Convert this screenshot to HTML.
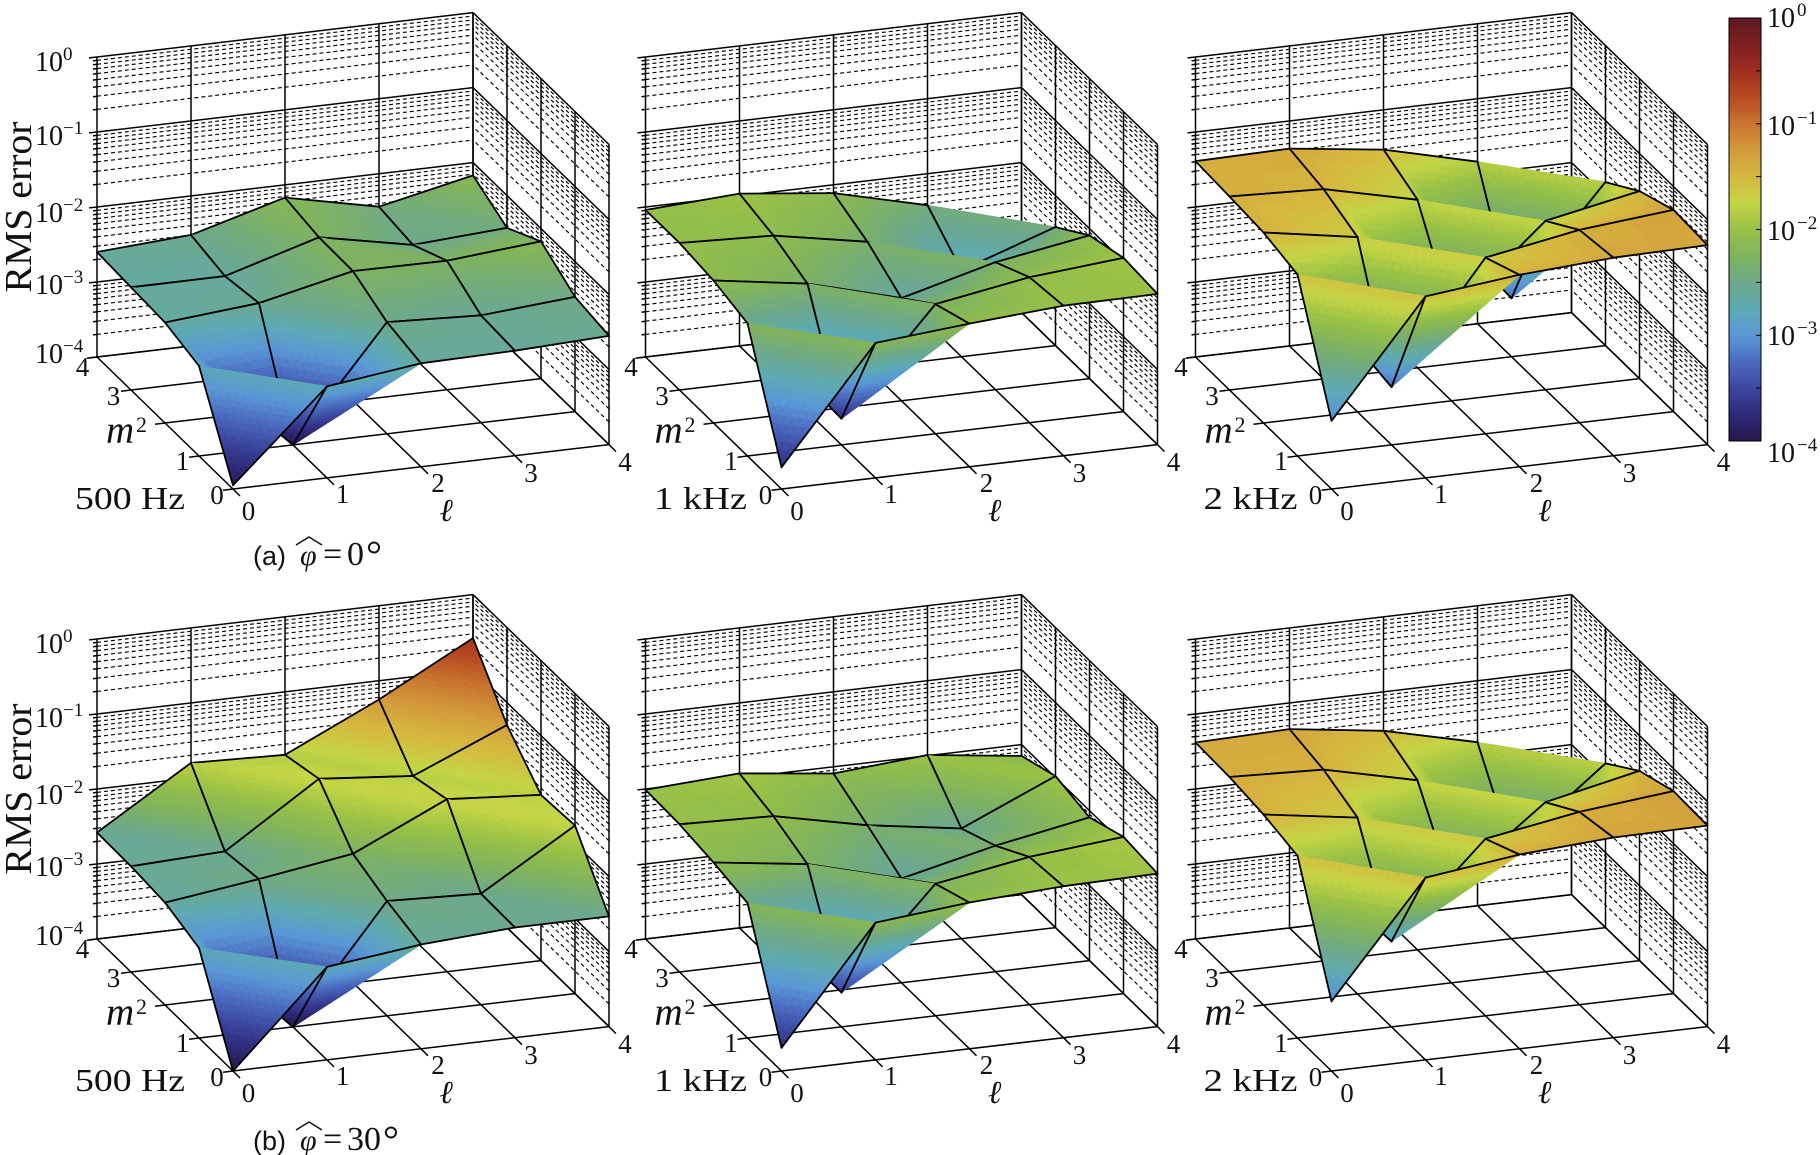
<!DOCTYPE html>
<html><head><meta charset="utf-8">
<style>
html,body{margin:0;padding:0;background:#fff;}
svg{display:block}
.g{stroke:#000;stroke-width:1.5;fill:none}
.d{stroke:#000;stroke-width:1.15;stroke-dasharray:4 3;fill:none}
.se{stroke:#000;stroke-width:1.8;stroke-linecap:round;fill:none}
.sf polygon{stroke-width:0.7;stroke-linejoin:round}
text{font-family:"Liberation Serif","DejaVu Serif",serif;fill:#111}
.t{font-size:27px;text-anchor:middle}
.zl{font-size:28px}
.ze{font-size:19px}
.mi{font-size:39px;font-style:italic}
.ms{font-size:22px}
.el{font-size:32px;font-style:italic;text-anchor:middle}
.fq{font-size:32px}
.cap{font-family:"Liberation Sans",sans-serif;font-size:27px}
.cm{font-size:34px}
.dg{font-size:40px}
</style></head><body>
<svg id="s" width="1820" height="1155" viewBox="0 0 1820 1155" xmlns="http://www.w3.org/2000/svg">
<defs>
<linearGradient id="cb" x1="0" y1="1" x2="0" y2="0">
<stop offset="0" stop-color="#26164a"/><stop offset="0.0625" stop-color="#2f2a7a"/><stop offset="0.125" stop-color="#3c479f"/><stop offset="0.1875" stop-color="#4b6cc0"/><stop offset="0.25" stop-color="#5a98d6"/><stop offset="0.3125" stop-color="#5eaab4"/><stop offset="0.375" stop-color="#6ea98a"/><stop offset="0.4375" stop-color="#80b35e"/><stop offset="0.5" stop-color="#98c146"/><stop offset="0.5625" stop-color="#c5d545"/><stop offset="0.625" stop-color="#d6b83f"/><stop offset="0.6875" stop-color="#d39a3c"/><stop offset="0.75" stop-color="#c9752f"/><stop offset="0.8125" stop-color="#b84a22"/><stop offset="0.875" stop-color="#9f2d1f"/><stop offset="0.9375" stop-color="#7f1f1f"/><stop offset="1" stop-color="#5c1a1f"/>
</linearGradient>
</defs>
<g id="plots"></g>

<!-- colorbar -->
<rect x="1729" y="18" width="32" height="423" fill="url(#cb)" stroke="#000" stroke-width="1"/>
<g class="g" style="stroke-width:1">
<line x1="1761" y1="70.9" x2="1756" y2="70.9"/><line x1="1761" y1="123.8" x2="1756" y2="123.8"/><line x1="1761" y1="176.6" x2="1756" y2="176.6"/><line x1="1761" y1="229.5" x2="1756" y2="229.5"/><line x1="1761" y1="282.4" x2="1756" y2="282.4"/><line x1="1761" y1="335.3" x2="1756" y2="335.3"/><line x1="1761" y1="388.1" x2="1756" y2="388.1"/>
</g>
<text class="zl" x="1767" y="27">10</text><text class="ze" x="1797" y="16">0</text>
<text class="zl" x="1767" y="135">10</text><text class="ze" x="1797" y="124">−1</text>
<text class="zl" x="1767" y="240">10</text><text class="ze" x="1797" y="229">−2</text>
<text class="zl" x="1767" y="345">10</text><text class="ze" x="1797" y="334">−3</text>
<text class="zl" x="1767" y="462">10</text><text class="ze" x="1797" y="451">−4</text>

<!-- z labels panel A -->
<text class="zl" x="35" y="71">10</text><text class="ze" x="63" y="60">0</text>
<text class="zl" x="35" y="145">10</text><text class="ze" x="63" y="134">−1</text>
<text class="zl" x="35" y="222">10</text><text class="ze" x="63" y="211">−2</text>
<text class="zl" x="35" y="294">10</text><text class="ze" x="63" y="283">−3</text>
<text class="zl" x="35" y="363">10</text><text class="ze" x="63" y="352">−4</text>
<!-- z labels panel D -->
<text class="zl" x="35" y="653">10</text><text class="ze" x="63" y="642">0</text>
<text class="zl" x="35" y="727">10</text><text class="ze" x="63" y="716">−1</text>
<text class="zl" x="35" y="804">10</text><text class="ze" x="63" y="793">−2</text>
<text class="zl" x="35" y="876">10</text><text class="ze" x="63" y="865">−3</text>
<text class="zl" x="35" y="945">10</text><text class="ze" x="63" y="934">−4</text>

<text transform="translate(31,207) rotate(-90)" style="font-size:38px;text-anchor:middle" textLength="171" lengthAdjust="spacingAndGlyphs">RMS error</text>
<text transform="translate(31,789) rotate(-90)" style="font-size:38px;text-anchor:middle" textLength="171" lengthAdjust="spacingAndGlyphs">RMS error</text>

<!-- m^2 tick labels -->
<text class="t" x="82.5" y="376">4</text><text class="t" x="113.5" y="405">3</text><text class="t" x="182.5" y="470">1</text><text class="t" x="217" y="504">0</text>
<text class="t" x="631" y="376">4</text><text class="t" x="662" y="405">3</text><text class="t" x="731" y="470">1</text><text class="t" x="765.5" y="504">0</text>
<text class="t" x="1181" y="376">4</text><text class="t" x="1212" y="405">3</text><text class="t" x="1281" y="470">1</text><text class="t" x="1315.5" y="504">0</text>
<text class="t" x="82.5" y="958">4</text><text class="t" x="113.5" y="987">3</text><text class="t" x="182.5" y="1052">1</text><text class="t" x="217" y="1086">0</text>
<text class="t" x="631" y="958">4</text><text class="t" x="662" y="987">3</text><text class="t" x="731" y="1052">1</text><text class="t" x="765.5" y="1086">0</text>
<text class="t" x="1181" y="958">4</text><text class="t" x="1212" y="987">3</text><text class="t" x="1281" y="1052">1</text><text class="t" x="1315.5" y="1086">0</text>

<!-- m^2 axis labels -->
<text class="mi" x="106" y="443">m</text><text class="ms" x="136" y="432">2</text>
<text class="mi" x="654.5" y="443">m</text><text class="ms" x="684.5" y="432">2</text>
<text class="mi" x="1204.5" y="443">m</text><text class="ms" x="1234.5" y="432">2</text>
<text class="mi" x="106" y="1025">m</text><text class="ms" x="136" y="1014">2</text>
<text class="mi" x="654.5" y="1025">m</text><text class="ms" x="684.5" y="1014">2</text>
<text class="mi" x="1204.5" y="1025">m</text><text class="ms" x="1234.5" y="1014">2</text>

<!-- l tick labels -->
<text class="t" x="248.5" y="520">0</text><text class="t" x="342.5" y="503">1</text><text class="t" x="438" y="492">2</text><text class="t" x="531" y="482">3</text><text class="t" x="625" y="471">4</text>
<text class="t" x="797" y="520">0</text><text class="t" x="891" y="503">1</text><text class="t" x="986.5" y="492">2</text><text class="t" x="1079.5" y="482">3</text><text class="t" x="1173.5" y="471">4</text>
<text class="t" x="1347" y="520">0</text><text class="t" x="1441" y="503">1</text><text class="t" x="1536.5" y="492">2</text><text class="t" x="1629.5" y="482">3</text><text class="t" x="1723.5" y="471">4</text>
<text class="t" x="248.5" y="1102">0</text><text class="t" x="342.5" y="1085">1</text><text class="t" x="438" y="1074">2</text><text class="t" x="531" y="1064">3</text><text class="t" x="625" y="1053">4</text>
<text class="t" x="797" y="1102">0</text><text class="t" x="891" y="1085">1</text><text class="t" x="986.5" y="1074">2</text><text class="t" x="1079.5" y="1064">3</text><text class="t" x="1173.5" y="1053">4</text>
<text class="t" x="1347" y="1102">0</text><text class="t" x="1441" y="1085">1</text><text class="t" x="1536.5" y="1074">2</text><text class="t" x="1629.5" y="1064">3</text><text class="t" x="1723.5" y="1053">4</text>

<!-- l axis labels -->
<text class="el" x="446" y="521">ℓ</text>
<text class="el" x="994.5" y="521">ℓ</text>
<text class="el" x="1544.5" y="521">ℓ</text>
<text class="el" x="446" y="1103">ℓ</text>
<text class="el" x="994.5" y="1103">ℓ</text>
<text class="el" x="1544.5" y="1103">ℓ</text>

<!-- frequency labels -->
<text class="fq" x="75" y="509" textLength="110" lengthAdjust="spacingAndGlyphs">500 Hz</text>
<text class="fq" x="654" y="509" textLength="93" lengthAdjust="spacingAndGlyphs">1 kHz</text>
<text class="fq" x="1203.5" y="509" textLength="94" lengthAdjust="spacingAndGlyphs">2 kHz</text>
<text class="fq" x="75" y="1091" textLength="110" lengthAdjust="spacingAndGlyphs">500 Hz</text>
<text class="fq" x="654" y="1091" textLength="93" lengthAdjust="spacingAndGlyphs">1 kHz</text>
<text class="fq" x="1203.5" y="1091" textLength="94" lengthAdjust="spacingAndGlyphs">2 kHz</text>

<!-- captions -->
<text class="cap" x="253" y="565">(a)</text>
<text x="300" y="565" style="font-size:30px;font-style:italic">φ</text>
<polyline points="296,545 309,537 322,545" fill="none" stroke="#111" stroke-width="1.5"/>
<text class="cm" x="323" y="565">=</text>
<text class="cm" x="347" y="565">0</text>
<text class="dg" x="366" y="568">°</text>

<text class="cap" x="253" y="1150">(b)</text>
<text x="300" y="1150" style="font-size:30px;font-style:italic">φ</text>
<polyline points="296,1130 309,1122 322,1130" fill="none" stroke="#111" stroke-width="1.5"/>
<text class="cm" x="323" y="1150">=</text>
<text class="cm" x="347" y="1150">30</text>
<text class="dg" x="383" y="1153">°</text>
</svg>
<script>
(function(){
var stops=[[-4,'#26164a'],[-3.75,'#2f2a7a'],[-3.5,'#3c479f'],[-3.25,'#4b6cc0'],[-3,'#5a98d6'],[-2.75,'#5eaab4'],[-2.5,'#6ea98a'],[-2.25,'#80b35e'],[-2,'#98c146'],[-1.75,'#c5d545'],[-1.5,'#d6b83f'],[-1.25,'#d39a3c'],[-1,'#c9752f'],[-0.75,'#b84a22'],[-0.5,'#9f2d1f'],[-0.25,'#7f1f1f'],[0,'#5c1a1f']];
var S=stops.map(function(s){return [s[0],[parseInt(s[1].slice(1,3),16),parseInt(s[1].slice(3,5),16),parseInt(s[1].slice(5,7),16)]];});
function hx(n){var h=n.toString(16);return h.length<2?'0'+h:h;}
function col(v){
  var c=S[S.length-1][1];
  if(v<=S[0][0]) c=S[0][1];
  else for(var i=0;i<S.length-1;i++){ if(v<=S[i+1][0]){var f=(v-S[i][0])/(S[i+1][0]-S[i][0]);var a=S[i][1],b=S[i+1][1];c=[0,1,2].map(function(k){return Math.round(a[k]+(b[k]-a[k])*f);});break;} }
  return '#'+hx(c[0])+hx(c[1])+hx(c[2]);
}
function f2(x){return x.toFixed(1);}
var panels=[
 [0,0,[[-3.95,-2.78,-2.62,-2.60,-2.55],[-2.80,-4.0,-2.51,-2.57,-2.47],[-2.66,-2.55,-2.27,-2.28,-2.17],[-2.63,-2.63,-2.26,-2.51,-2.43],[-2.60,-2.52,-2.17,-2.44,-2.17]]],
 [548.5,0,[[-3.71,-2.20,-2.09,-2.00,-1.99],[-2.23,-3.65,-2.27,-2.06,-1.95],[-2.10,-2.29,-2.63,-2.30,-2.09],[-2.04,-2.09,-2.32,-2.85,-2.42],[-2.04,-1.97,-2.11,-2.42,-3.2]]],
 [1098.5,0,[[-3.09,-1.58,-1.44,-1.36,-1.34],[-1.58,-3.23,-1.65,-1.43,-1.31],[-1.46,-1.67,-2.85,-1.75,-1.50],[-1.42,-1.47,-1.76,-3.22,-1.82],[-1.39,-1.37,-1.53,-1.84,-2.6]]],
 [0,582,[[-4.0,-2.76,-2.61,-2.53,-2.53],[-2.80,-4.0,-2.47,-2.52,-1.76],[-2.635,-2.47,-2.28,-1.70,-1.79],[-2.59,-2.54,-1.72,-1.83,-1.30],[-2.58,-1.80,-1.84,-1.25,-0.58]]],
 [548.5,582,[[-3.69,-2.17,-2.05,-1.98,-1.96],[-2.20,-3.54,-2.24,-2.03,-1.91],[-2.10,-2.27,-2.61,-2.32,-2.09],[-2.03,-2.07,-2.34,-2.53,-1.98],[-2.01,-1.94,-2.09,-1.99,-2.15]]],
 [1098.5,582,[[-3.07,-1.57,-1.41,-1.33,-1.32],[-1.57,-2.86,-1.64,-1.43,-1.30],[-1.46,-1.65,-2.70,-1.74,-1.47],[-1.40,-1.45,-1.74,-2.8,-1.81],[-1.38,-1.35,-1.52,-1.82,-2.6]]]
];
var out='';
panels.forEach(function(pn){
  var dx=pn[0],dy=pn[1],Z=pn[2];
  function P(l,m,t){return [233+94*l-34*m+dx,489-11.1*l-33*m-75*t+dy];}
  function L(a,b,c){return '<line x1="'+f2(a[0])+'" y1="'+f2(a[1])+'" x2="'+f2(b[0])+'" y2="'+f2(b[1])+'" class="'+c+'"/>';}
  var s='';
  var d,j,k,t;
  for(d=0;d<4;d++)for(j=2;j<=9;j++){t=d+Math.log10(j);s+=L(P(0,4,t),P(4,4,t),'d');s+=L(P(4,0,t),P(4,4,t),'d');}
  for(t=0;t<=4;t++){s+=L(P(0,4,t),P(4,4,t),'g');s+=L(P(4,0,t),P(4,4,t),'g');}
  for(k=0;k<=4;k++){
    s+=L(P(k,4,0),P(k,4,4),'g');s+=L(P(4,k,0),P(4,k,4),'g');
    s+=L(P(0,k,0),P(4,k,0),'g');s+=L(P(k,0,0),P(k,4,0),'g');
    var a=P(0,k,0);s+=L(a,[a[0]-10,a[1]+1.2],'g');
    var b=P(k,0,0);s+=L(b,[b[0]+7,b[1]+7],'g');
  }
  for(d=0;d<=4;d++)for(j=1;j<=9;j++){t=d+Math.log10(j);if(t>4.0001)break;var q=P(0,4,t);var ln=(j==1)?8:4;s+=L(q,[q[0]-ln,q[1]+ln*0.118],'g');}
  function val(p){return Math.max(-4,Math.min(0,Z[p[1]][p[0]]));}
  function dep(p){return 30.8*p[0]+91.8*p[1]-26.9*(val(p)+4);}
  var tris=[];
  for(var m=0;m<4;m++)for(var l=0;l<4;l++){
    var A=[l,m],B=[l+1,m],C=[l+1,m+1],D=[l,m+1];
    tris.push({v:[A,B,D],e:[[A,B],[A,D]]});
    tris.push({v:[B,C,D],e:[[B,C],[C,D]]});
  }
  tris.forEach(function(T){T.dp=(dep(T.v[0])+dep(T.v[1])+dep(T.v[2]))/3;});
  tris.sort(function(X,Y){return Y.dp-X.dp;});
  s+='<g class="sf">';
  tris.forEach(function(T){
    var pts=T.v.map(function(p){return P(p[0],p[1],val(p)+4);});
    var vs=T.v.map(val);
    var rg=Math.max(vs[0],vs[1],vs[2])-Math.min(vs[0],vs[1],vs[2]);
    var N=Math.max(2,Math.min(16,Math.ceil(rg/0.06)));
    function Q(i,j){var kk=N-i-j;return [(pts[0][0]*kk+pts[1][0]*i+pts[2][0]*j)/N,(pts[0][1]*kk+pts[1][1]*i+pts[2][1]*j)/N,(vs[0]*kk+vs[1]*i+vs[2]*j)/N];}
    function tri(p1,p2,p3){var c=col((p1[2]+p2[2]+p3[2])/3);return '<polygon points="'+f2(p1[0])+','+f2(p1[1])+' '+f2(p2[0])+','+f2(p2[1])+' '+f2(p3[0])+','+f2(p3[1])+'" style="fill:'+c+';stroke:'+c+'"/>';}
    for(var i=0;i<N;i++)for(var jj=0;jj<N-i;jj++){
      var p1=Q(i,jj),p2=Q(i+1,jj),p3=Q(i,jj+1);
      s+=tri(p1,p2,p3);
      if(i+jj<N-1){s+=tri(p2,Q(i+1,jj+1),p3);}
    }
    T.e.forEach(function(e){s+=L(P(e[0][0],e[0][1],val(e[0])+4),P(e[1][0],e[1][1],val(e[1])+4),'se');});
  });
  s+='</g>';
  out+=s;
});
document.getElementById('plots').innerHTML=out;
})();
</script>
</body></html>
